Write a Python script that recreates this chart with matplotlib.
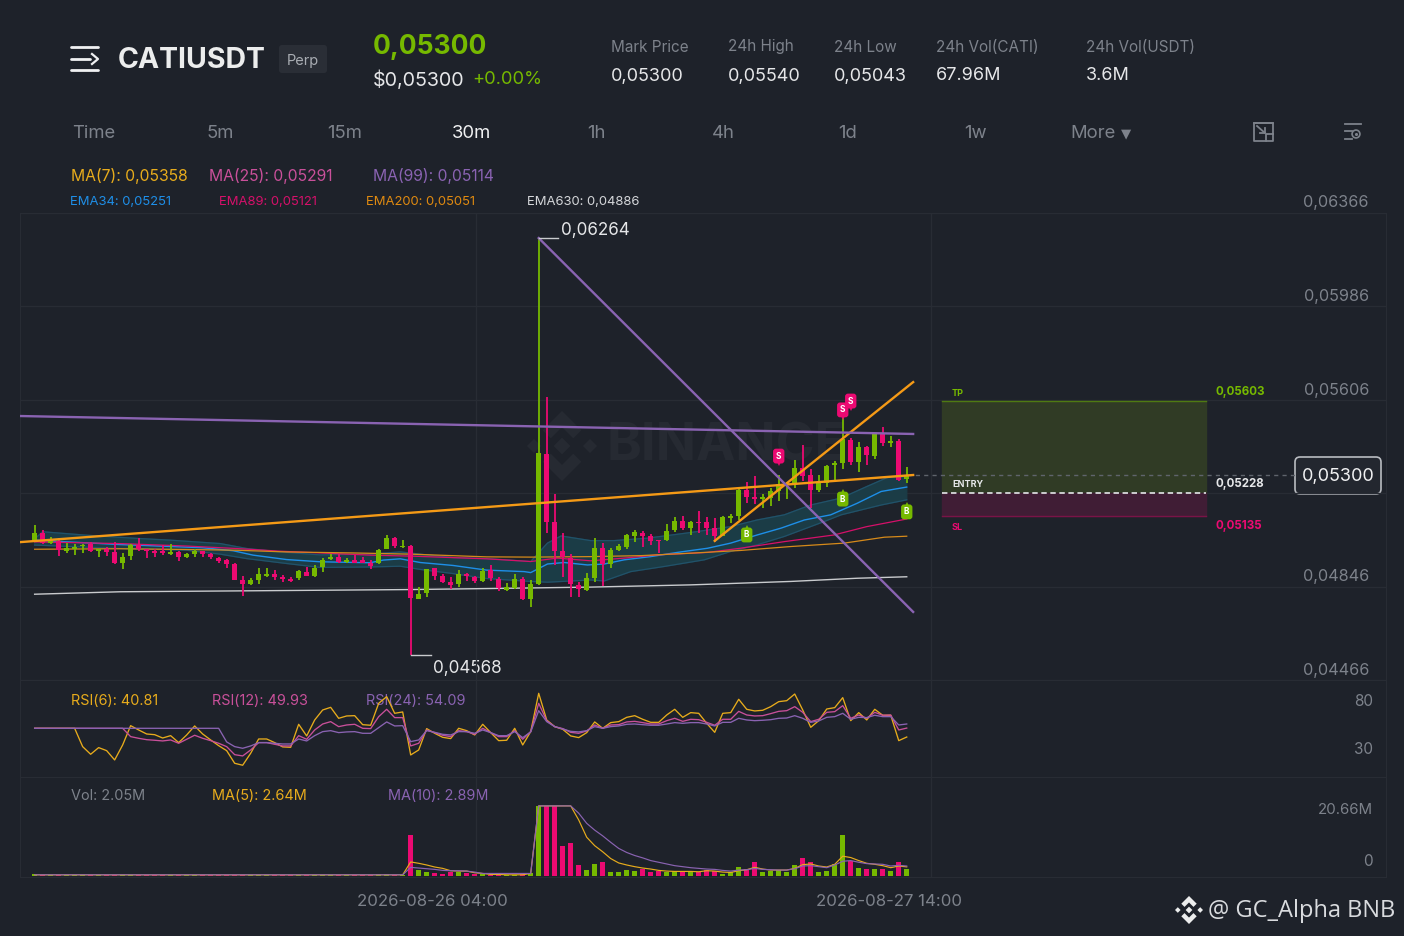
import numpy as np
import matplotlib
matplotlib.use("Agg")
import matplotlib.pyplot as plt
from matplotlib.patches import FancyBboxPatch, Polygon
from matplotlib.transforms import offset_copy

W, H = 1404, 936
BG = "#1e222a"
GRID = "#282c34"
GRAY = "#7d828b"
GREEN = "#76b900"
PINK = "#ec0a72"
YELLOW = "#e8ac1c"
MAPINK = "#c9509a"
PURPLE = "#8a63b2"
ORANGE = "#f59a16"
BLUE = "#1e8fe8"

# prices are in units of 0.00001
opens = [5032, 5065, 5025, 5032, 4990, 4997, 5011, 5021, 4992, 5000,
         4987, 4943, 4970, 5015, 4998, 4992, 4992, 4977, 4985, 4967,
         4979, 4990, 4978, 4964, 4954, 4937, 4871, 4857, 4872, 4890,
         4899, 4887, 4878, 4882, 4907, 4888, 4924, 4958, 4967, 4947,
         4955, 4954, 4941, 4940, 5000, 5043, 5008, 5013, 4796, 4821,
         4921, 4888, 4865, 4856, 4898, 4887, 4868, 4914, 4877, 4833,
         4839, 4876, 4796, 4857, 5386, 5108, 4989, 4964, 4853, 4833,
         4879, 5002, 4937, 4995, 5009, 5052, 5066, 5050, 5035, 5036,
         5077, 5112, 5086, 5109, 5108, 5084, 5052, 5126, 5134, 5240,
         5212, 5203, 5206, 5235, 5260, 5269, 5328, 5301, 5237, 5267,
         5341, 5348, 5443, 5351, 5413, 5378, 5467, 5432, 5440, 5283]
highs = [5096, 5078, 5046, 5042, 5024, 5021, 5021, 5028, 5001, 5008,
         5028, 4981, 5021, 5042, 5001, 5001, 5015, 5019, 4992, 4983,
         4997, 4992, 4982, 4967, 4960, 4940, 4891, 4879, 4920, 4921,
         4913, 4894, 4886, 4913, 4924, 4932, 4964, 4978, 4978, 4963,
         4973, 4967, 4954, 4998, 5054, 5047, 5035, 5015, 4845, 4918,
         4922, 4899, 4886, 4913, 4901, 4890, 4920, 4934, 4887, 4860,
         4896, 4887, 4873, 6264, 5616, 5223, 5063, 4979, 4863, 4901,
         5043, 5025, 5002, 5020, 5061, 5077, 5073, 5061, 5036, 5101,
         5131, 5134, 5111, 5155, 5128, 5124, 5134, 5142, 5246, 5272,
         5294, 5223, 5246, 5301, 5273, 5362, 5423, 5324, 5301, 5341,
         5355, 5540, 5450, 5433, 5418, 5470, 5494, 5459, 5446, 5334]
lows = [5028, 5021, 5021, 4971, 4983, 4975, 4983, 4987, 4967, 4970,
        4936, 4918, 4956, 4990, 4963, 4966, 4975, 4975, 4952, 4964,
        4966, 4968, 4959, 4943, 4922, 4871, 4808, 4853, 4856, 4886,
        4872, 4865, 4865, 4872, 4888, 4887, 4906, 4956, 4944, 4940,
        4940, 4940, 4916, 4939, 4997, 5004, 5005, 4568, 4794, 4804,
        4872, 4859, 4837, 4846, 4869, 4859, 4863, 4867, 4830, 4830,
        4835, 4792, 4765, 4854, 5066, 4934, 4887, 4803, 4803, 4830,
        4864, 4849, 4921, 4989, 4998, 5029, 5009, 5016, 4982, 5033,
        5069, 5077, 5054, 5066, 5056, 5029, 5050, 5104, 5115, 5188,
        5183, 5165, 5172, 5196, 5204, 5246, 5276, 5165, 5229, 5253,
        5280, 5326, 5341, 5313, 5341, 5367, 5420, 5412, 5277, 5267]
closes = [5065, 5024, 5035, 4994, 5004, 5008, 5017, 4990, 4998, 4987,
          4941, 4968, 5015, 4997, 4989, 4983, 4981, 4985, 4966, 4978,
          4992, 4979, 4966, 4951, 4937, 4872, 4856, 4871, 4897, 4898,
          4886, 4875, 4870, 4909, 4890, 4922, 4956, 4966, 4947, 4956,
          4944, 4943, 4929, 4994, 5044, 5011, 5013, 4798, 4814, 4918,
          4888, 4865, 4853, 4899, 4888, 4870, 4910, 4883, 4839, 4844,
          4877, 4795, 4857, 5389, 5107, 4989, 4968, 4856, 4837, 4879,
          5002, 4938, 4995, 5012, 5054, 5070, 5050, 5033, 5031, 5074,
          5111, 5086, 5108, 5104, 5086, 5052, 5131, 5135, 5240, 5212,
          5204, 5210, 5234, 5263, 5269, 5328, 5296, 5237, 5267, 5338,
          5348, 5446, 5351, 5413, 5381, 5470, 5432, 5439, 5280, 5300]

# moving averages, (candle number, price) pairs
ema34X = [0, 2.3, 10.7, 14.8, 21, 24.8, 27.3, 31.5, 35.7, 41.9, 43.6, 45.7, 48.2, 52.3, 56.5,
          61.2, 62, 64.1, 66.2, 69.1, 71.2, 73.7, 77, 80.3, 84.1, 87, 90.3, 93.3, 96.2, 99.5,
          102.8, 105.8, 109]
ema34Y = [5035, 5031, 5017, 5012, 5004, 4992, 4974, 4956, 4947, 4943, 4954, 4959, 4944, 4932, 4913,
          4907, 4903, 4938, 4944, 4934, 4938, 4955, 4968, 4985, 5002, 5023, 5056, 5084, 5117, 5138,
          5185, 5233, 5251]
bandTopX = [0, 1, 6.5, 12.8, 16.9, 23.2, 26.5, 30.7, 35.7, 41.9, 45.7, 48.2, 52.3, 56.5, 62,
            64.1, 65.8, 69.5, 72.4, 76.6, 82, 87, 90.3, 93.7, 97, 100.8, 104, 106.6, 109]
bandTopY = [5040, 5069, 5055, 5042, 5035, 5021, 5001, 4987, 4975, 4978, 4987, 4978, 4964, 4960, 4948,
            5023, 5052, 5033, 5033, 5043, 5066, 5090, 5117, 5138, 5178, 5206, 5253, 5290, 5294]
bandLowX = [0, 10.7, 19, 23.2, 26.5, 31.5, 35.7, 41.9, 45.7, 48.2, 52.3, 56.5, 62, 64.1, 69.5,
            71.2, 74.5, 78.7, 83.7, 87, 90.3, 93.7, 98.7, 100.8, 105.8, 109]
bandLowY = [5015, 5001, 4994, 4978, 4960, 4940, 4924, 4926, 4929, 4916, 4899, 4879, 4867, 4864, 4873,
            4869, 4907, 4928, 4955, 4989, 5016, 5050, 5111, 5138, 5178, 5199]
ema89X = [0, 10.7, 19, 25.2, 30.7, 35.7, 41.9, 47, 56.5, 62, 65.3, 69.5, 73.7, 77.8, 84.1, 88.2,
          93.7, 99.9, 104, 109]
ema89Y = [5028, 5021, 5011, 5001, 4990, 4983, 4974, 4970, 4959, 4948, 4962, 4951, 4962, 4975, 4985, 5002,
          5029, 5056, 5090, 5121]
ema200X = [0, 10.7, 19, 25.2, 31.5, 39.8, 47, 56.5, 62, 69.5, 75.8, 82, 88.2, 94.5, 101.2, 106.2, 109]
ema200Y = [4998, 5000, 4997, 4994, 4987, 4983, 4978, 4967, 4966, 4968, 4972, 4982, 4993, 5009, 5023, 5047, 5051]
ema630X = [0, 10.7, 27.3, 47, 56.5, 69.5, 82, 94.5, 102.8, 109]
ema630Y = [4815, 4825, 4829, 4834, 4838, 4844, 4853, 4867, 4880, 4886]

# hand drawn trend lines, (candle number, price) at both ends
trendOrangeLong = ([-1.8, 109.8], [5027, 5300])
trendOrangeUp = ([85, 109.8], [5032, 5678])
trendPurpleFlat = ([-1.8, 109.8], [5540, 5467])
trendPurpleDown = ([63, 109.8], [6264, 4743])

signalX = [102, 101, 93, 101, 89, 109]
signalY = [5601, 5565, 5377, 5202, 5056, 5150]
signalKind = ["S", "S", "S", "B", "B", "B"]

tpPrice, entryPrice, slPrice = 5603, 5228, 5135
lastPrice = 5300

priceTicks = [6366, 5986, 5606, 5228, 4846, 4466]

rsi6 = [49.7, 49.7, 49.7, 49.7, 49.7, 49.7, 31, 23.2, 30, 26.9, 17.4, 32.7, 52.4, 48, 43.9, 43.2,
        39.8, 42.2, 35.1, 42.9, 52.1, 43.9, 37.8, 32, 26.9, 14, 12, 24.2, 38.8, 38.8, 35.1, 30.7,
        30.3, 53.8, 41.9, 58.2, 68.4, 71.1, 59.9, 62.3, 62.6, 53.4, 52.8, 75.2, 82, 65, 66.4, 22.5,
        27.6, 49.4, 44.6, 40.5, 39.2, 49.7, 47.3, 42.9, 53.8, 45.3, 37.1, 37.5, 49.7, 32.7, 46.3,
        85.4, 58.2, 51.4, 48.7, 41.9, 40.2, 45.3, 56.2, 49.7, 55.5, 56.5, 60.9, 62.6, 58.9, 55.8,
        55.8, 63.3, 69.1, 60.9, 65.7, 65, 54.8, 45.6, 65, 65.7, 79.3, 69.1, 67.4, 68.1, 71.8, 76.9,
        77.9, 84.7, 68.4, 50.7, 57.5, 69.4, 70.8, 81, 57.5, 65.7, 58.2, 69.1, 63, 63, 37.1, 40.81]
rsi12 = [49.7, 49.7, 49.7, 49.7, 49.7, 49.7, 49.7, 49.7, 49.7, 49.7, 49.7, 49.7,
         41.2, 39.5, 38.1, 37.5, 36.8, 37.8, 34.4, 38.5, 42.6, 39.5, 37.1, 34.4, 31, 22.8, 21.5,
         27.6, 35.1, 35.1, 33.4, 31.7, 31.7, 42.2, 38.5, 48, 54.1, 56.5, 51.4, 53.1, 53.8, 49.7,
         49.4, 61.6, 69.1, 60.6, 60.6, 31.7, 34.4, 48, 45.3, 42.6, 41.2, 47.3, 46.3, 43.6,
         49.7, 45.3, 41.2, 41.2, 47.3, 38.5, 46.3, 75.2, 57.5, 51.4, 49.4, 45.6, 44.6, 47, 53.1,
         49.7, 53.1, 53.4, 56.2, 56.8, 55.5, 54.1, 54.1, 57.5, 59.9, 56.8, 58.9, 58.5, 55.8, 52.8,
         58.9, 58.9, 67, 63.3, 62.3, 62.6, 64.7, 67, 67.7, 71.8, 66, 56.5, 58.9, 66, 66.7, 72.8,
         59.9, 63.3, 59.9, 66, 63, 63.3, 48, 49.93]
rsi24 = [49.7, 49.7, 49.7, 49.7, 49.7, 49.7, 49.7, 49.7, 49.7, 49.7, 49.7, 49.7,
         49.7, 49.7, 49.7, 49.7, 49.7, 49.7, 49.7, 49.7, 49.7, 49.7, 49.7, 49.7,
         35.8, 31, 29.3, 31.7, 35.1, 35.1, 34.4, 33.7, 33.7, 38.8, 36.8, 42.2, 46.3, 47.3, 45.3,
         46, 46.3, 44.6, 44.6, 50.4, 56.2, 52.1, 52.4, 36.1, 37.8, 47.3, 45.6, 43.6, 42.9, 46.3,
         46.3, 44.6, 48, 45.3, 42.2, 42.2, 46.3, 40.2, 46, 67.7, 56.5, 51.4, 49, 46.6, 46, 47.3,
         51.4, 49.7, 51.4, 52.1, 53.8, 54.1, 53.4, 52.8, 52.8, 54.1, 55.5, 54.8, 55.5, 55.5, 54.1,
         52.1, 55.8, 55.8, 59.9, 58.2, 57.5, 57.9, 58.5, 59.9, 60.2, 62.6, 59.9, 55.8, 57.2, 60.9,
         61.6, 65, 58.9, 60.9, 60.6, 63, 61.6, 61.6, 53.1, 54.09]

# volume in millions, the chart itself cuts everything above 20.66
volume = [0.4, 0.3, 0.3, 0.3, 0.3, 0.2, 0.2, 0.2, 0.2, 0.2, 0.3, 0.3, 0.3, 0.2, 0.2, 0.2,
          0.2, 0.2, 0.2, 0.2, 0.2, 0.2, 0.2, 0.2, 0.2, 0.3, 0.3, 0.2, 0.3, 0.2, 0.2, 0.2,
          0.2, 0.2, 0.2, 0.2, 0.2, 0.2, 0.2, 0.2, 0.2, 0.2, 0.2, 0.5, 0.4, 0.2, 0.2,
          12.05, 1.7, 1, 0.7, 0.4, 1.2, 1.2, 0.7, 0.4, 0.4, 0.3, 0.3, 0.3, 0.3, 0.4, 0.8,
          20.66, 20.66, 20.66, 8.9, 9.6, 3.1, 1.7, 3.6, 4, 1.2, 1, 1.6, 1.3, 2, 1, 1.3, 1.2,
          1.3, 1.2, 1.2, 1.2, 1.7, 1.4, 0.6, 1, 2.6, 1.9, 4.1, 1, 1.4, 1.7, 1.2, 3.2, 5.4, 4,
          1.2, 1.5, 3.4, 12.1, 4.3, 2.4, 1.9, 2, 2, 1.5, 4, 2.05]
volMa5 = [0.3] * 47 + [4.1, 3.7, 3.2, 2.6, 2.2, 1.5, 1.4, 1.4, 0.9, 0.7, 0.4, 0.4, 0.3, 0.3, 0.3, 0.7,
                       20.66, 20.66, 20.66, 20.66, 20.66, 16.5, 11.4, 8.9, 7.1, 5.1, 3.8, 3.2, 2.7,
                       2.3, 2, 1.6, 1.4, 1.3, 1.3, 1.3, 1.2, 1.5, 1.4, 1.1, 1, 1.5, 1.8, 2.5, 2, 1.7,
                       1.7, 1.7, 2.2, 3.3, 3.5, 2.9, 2.6, 3.4, 5.8, 5.4, 4.5, 3.7, 3.4, 3, 2.4, 2.9, 2.64]
volMa10 = [0.3] * 47 + [2.5, 2.3, 2.1, 1.9, 1.6, 1.5, 1.5, 1.4, 1.1, 0.7, 0.7, 0.7, 0.7, 0.7, 0.7, 0.7,
                        20.66, 20.66, 20.66, 20.66, 20.66, 18.5, 15.5, 13.5, 11.8, 9.9, 8.1, 6.9, 6,
                        5.3, 4.5, 4, 3.5, 3, 2.7, 2.4, 2.2, 2, 1.9, 1.6, 1.4, 1.7, 1.8, 2.2, 1.9, 1.8,
                        1.7, 1.7, 2.1, 2.9, 3, 2.7, 2.4, 3.2, 4.3, 4.5, 4, 3.6, 3.5, 3.4, 2.9, 3.1, 2.89]

plt.rcParams["font.family"] = ["Inter", "DejaVu Sans"]


def addPanel(fig, top, bottom):
    ax = fig.add_axes([20 / W, 1 - bottom / H, 1366 / W, (bottom - top) / H], zorder=2)
    ax.patch.set_alpha(0)
    # candle 0 sits at pixel 34.7 and candles are 8 pixels apart
    ax.set_xlim(-1.83, 168.9)
    ax.set_xticks([55.17, 112.04])
    ax.set_xticklabels([])
    ax.set_yticklabels([])
    ax.tick_params(length=0)
    ax.grid(True, color=GRID, linewidth=1)
    ax.set_axisbelow(True)
    for spine in ax.spines.values():
        spine.set_color(GRID)
    return ax


def label(ui, x, y, text, **kw):
    # va="center" on these fonts reads about 2 pixels high
    ui.text(x, y + 2, text, va="center", **kw)


def drawLogo(ui, x, y, r, color):
    ui.add_patch(Polygon([(x, y - r * 0.24), (x + r * 0.24, y), (x, y + r * 0.24), (x - r * 0.24, y)], fc=color, ec="none"))
    for side in (-1, 1):
        cx = x + side * r * 0.8
        ui.add_patch(Polygon([(cx, y - r * 0.2), (cx + r * 0.2, y), (cx, y + r * 0.2), (cx - r * 0.2, y)], fc=color, ec="none"))
        chevron = [(x, y + side * r), (x + r * 0.55, y + side * r * 0.45), (x + r * 0.32, y + side * r * 0.22),
                   (x, y + side * r * 0.54), (x - r * 0.32, y + side * r * 0.22), (x - r * 0.55, y + side * r * 0.45)]
        ui.add_patch(Polygon(chevron, fc=color, ec="none"))


def drawHeader(ui):
    for y, x0, x1 in [(47, 71, 98), (59, 71, 90), (70, 71, 98)]:
        ui.plot([x0, x1], [y, y], color="#f0f1f2", lw=2, solid_capstyle="round")
    ui.plot([92, 98, 92], [54, 59, 64], color="#f0f1f2", lw=1.6)

    label(ui, 118, 59, "CATIUSDT", color="#eceded", fontsize=20.5, fontweight="bold")
    ui.add_patch(FancyBboxPatch((282, 48), 42, 22, boxstyle="round,pad=3", fc="#2a2e36", ec="none"))
    label(ui, 303, 59.5, "Perp", color="#a9adb3", fontsize=10.5, ha="center")
    label(ui, 373, 45, "0,05300", color=GREEN, fontsize=19, fontweight="bold")
    label(ui, 373, 78, "$0,05300", color="#e6e7e9", fontsize=14.2)
    label(ui, 472, 78, "+0.00%", color=GREEN, fontsize=13.2)

    stats = [(611, "Mark Price", "0,05300"), (728, "24h High", "0,05540"), (834, "24h Low", "0,05043"),
             (936, "24h Vol(CATI)", "67.96M"), (1086, "24h Vol(USDT)", "3.6M")]
    for x, name, value in stats:
        label(ui, x, 45, name, color=GRAY, fontsize=11)
        label(ui, x, 74, value, color="#e6e7e9", fontsize=13)

    frames = [(72, "Time"), (206, "5m"), (327, "15m"), (452, "30m"), (587, "1h"), (712, "4h"),
              (838, "1d"), (964, "1w"), (1070, "More")]
    for x, name in frames:
        label(ui, x, 132, name, color="#f0f1f2" if name == "30m" else GRAY, fontsize=13.3)
    label(ui, 1126, 132, "▼", color=GRAY, fontsize=9.5, ha="center", family="DejaVu Sans")

    # the two little icons at the right
    ui.plot([1254, 1273, 1273, 1266, 1266, 1273], [123, 123, 141, 141, 134, 134], color=GRAY, lw=1.3)
    ui.plot([1266, 1254, 1254, 1273], [141, 141, 123, 123], color=GRAY, lw=1.3)
    ui.plot([1257, 1265], [126, 133], color=GRAY, lw=1.3)
    ui.plot([1260, 1265, 1265], [133, 133, 128], color=GRAY, lw=1.3)
    for y, x1 in [(124, 1361), (131, 1352), (139, 1352)]:
        ui.plot([1345, x1], [y, y], color=GRAY, lw=1.3)
    ui.scatter([1356], [134], s=32, facecolor="none", edgecolor=GRAY, linewidths=1.2)
    ui.scatter([1356], [134], s=5, color=GRAY, linewidths=0)

    for x, text, color in [(71, "MA(7): 0,05358", YELLOW), (209, "MA(25): 0,05291", MAPINK),
                           (373, "MA(99): 0,05114", PURPLE)]:
        label(ui, x, 174, text, color=color, fontsize=11.3)
    for x, text, color in [(70, "EMA34: 0,05251", BLUE), (219, "EMA89: 0,05121", "#d6106a"),
                           (366, "EMA200: 0,05051", "#e08a10"), (527, "EMA630: 0,04886", "#d5d7da")]:
        label(ui, x, 200, text, color=color, fontsize=9.4)


def drawSideLabels(ui):
    for y, text in [(201, "0,06366"), (295, "0,05986"), (388, "0,05606"), (575, "0,04846"), (668, "0,04466")]:
        label(ui, 1369, y, text, color=GRAY, fontsize=11.7, ha="right")
    ui.add_patch(FancyBboxPatch((1300, 462), 76, 27, boxstyle="round,pad=5", fc="#23272f", ec="#b9bcc1", lw=1.2))
    label(ui, 1338, 474, "0,05300", color="#f0f1f2", fontsize=13, ha="center")

    label(ui, 952, 391, "TP", color=GREEN, fontsize=6.5, fontweight="bold")
    label(ui, 952, 525, "SL", color=PINK, fontsize=6.5, fontweight="bold")
    label(ui, 1215, 390, "0,05603", color=GREEN, fontsize=8.3, fontweight="bold")
    label(ui, 1215, 482, "0,05228", color="#e6e7e9", fontsize=8.3, fontweight="bold")
    label(ui, 1215, 524, "0,05135", color=PINK, fontsize=8.3, fontweight="bold")

    label(ui, 561, 228, "0,06264", color="#e6e7e9", fontsize=12.3)
    label(ui, 433, 666, "0,04568", color="#e6e7e9", fontsize=12.3)

    for x, text, color in [(71, "RSI(6): 40.81", YELLOW), (212, "RSI(12): 49.93", MAPINK), (366, "RSI(24): 54.09", PURPLE)]:
        label(ui, x, 699, text, color=color, fontsize=10.4)
    label(ui, 1373, 700, "80", color=GRAY, fontsize=11, ha="right")
    label(ui, 1373, 748, "30", color=GRAY, fontsize=11, ha="right")

    for x, text, color in [(71, "Vol: 2.05M", GRAY), (212, "MA(5): 2.64M", YELLOW), (388, "MA(10): 2.89M", PURPLE)]:
        label(ui, x, 794, text, color=color, fontsize=10.4)
    label(ui, 1373, 808, "20.66M", color=GRAY, fontsize=10.8, ha="right")
    label(ui, 1373, 859, "0", color=GRAY, fontsize=11, ha="right")

    label(ui, 432, 900, "2026-08-26 04:00", color=GRAY, fontsize=12.1, ha="center")
    label(ui, 889, 900, "2026-08-27 14:00", color=GRAY, fontsize=12.1, ha="center")

    # faint watermark behind the candles
    label(ui, 607, 445, "BINANCE", color="#262a32", fontsize=38, fontweight="bold")
    drawLogo(ui, 562, 446, 35, "#262a32")

    drawLogo(ui, 1189, 910, 14, "#eceded")
    label(ui, 1208, 909, "@ GC_Alpha BNB", color="#d9dbde", fontsize=17, family="Open Sans")


def drawPrice(ax):
    o, h, l, c = [np.array(v) / 1e5 for v in (opens, highs, lows, closes)]
    xs = np.arange(len(o))
    colors = np.where(c >= o, GREEN, PINK)

    ax.fill(np.r_[bandTopX, bandLowX[::-1]], np.r_[bandTopY, bandLowY[::-1]] / 1e5, color="#1b3c46", zorder=1)
    ax.plot(bandTopX, np.array(bandTopY) / 1e5, color="#21526a", lw=0.9, zorder=1.2)
    ax.plot(bandLowX, np.array(bandLowY) / 1e5, color="#21526a", lw=0.9, zorder=1.2)
    ax.plot(ema34X, np.array(ema34Y) / 1e5, color=BLUE, lw=1, zorder=1.5)
    ax.plot(ema89X, np.array(ema89Y) / 1e5, color="#d6106a", lw=0.9, zorder=1.5)
    ax.plot(ema200X, np.array(ema200Y) / 1e5, color="#d68a1a", lw=0.9, zorder=1.5)
    ax.plot(ema630X, np.array(ema630Y) / 1e5, color="#c9cbce", lw=1, zorder=1.5)

    ax.vlines(xs, l, h, colors=colors, lw=1.3, zorder=3)
    ax.bar(xs, np.abs(c - o), bottom=np.minimum(o, c), width=0.62, color=colors, zorder=3)

    for line, color in [(trendOrangeLong, ORANGE), (trendOrangeUp, ORANGE),
                        (trendPurpleFlat, PURPLE), (trendPurpleDown, PURPLE)]:
        ax.plot(line[0], np.array(line[1]) / 1e5, color=color, lw=1.7, zorder=4)

    # leader lines of the high and low labels
    ax.plot([63, 65.4], [0.06264, 0.06264], color="#c9cbce", lw=1, zorder=4)
    ax.plot([47, 49.5], [0.04568, 0.04568], color="#c9cbce", lw=1, zorder=4)

    # TP / SL box
    ax.fill_between([113.4, 146.4], entryPrice / 1e5, tpPrice / 1e5, color="#303b25", zorder=1)
    ax.fill_between([113.4, 146.4], slPrice / 1e5, entryPrice / 1e5, color="#401d35", zorder=1)
    ax.plot([113.4, 146.4], [tpPrice / 1e5] * 2, color="#4f7a12", lw=1, zorder=1.5)
    ax.plot([113.4, 146.4], [slPrice / 1e5] * 2, color="#7a1347", lw=1, zorder=1.5)
    ax.plot([113.4, 146.4], [entryPrice / 1e5] * 2, color="#d8d9db", lw=1.3, ls=(0, (3, 2)), zorder=2)
    ax.plot([109, 157.6], [lastPrice / 1e5] * 2, color="#5f646c", lw=1, ls=(0, (3, 3)), zorder=2)
    ax.text(114.7, 0.05263, "ENTRY", color="#e6e7e9", fontsize=6.5, fontweight="bold", va="center", zorder=5)

    for x, y, kind in zip(signalX, signalY, signalKind):
        face = PINK if kind == "S" else GREEN
        marker = "v" if kind == "S" else "^"
        shift = -6 if kind == "S" else 6
        tipTransform = offset_copy(ax.transData, fig=ax.figure, y=shift, units="dots")
        ax.plot([x], [y / 1e5], marker=marker, ms=6, color=face, mew=0, transform=tipTransform, zorder=5)
        ax.text(x, y / 1e5, kind, color="white", fontsize=6, fontweight="bold", ha="center", va="center",
                zorder=6, bbox=dict(boxstyle="round,pad=0.35", fc=face, ec="none"))

    ax.set_ylim(0.04466, 0.06366)
    ax.set_yticks(np.array(priceTicks) / 1e5)


def main():
    fig = plt.figure(figsize=(W / 100, H / 100), dpi=100, facecolor=BG)

    ui = fig.add_axes([0, 0, 1, 1], zorder=1)
    ui.axis("off")
    drawHeader(ui)
    drawSideLabels(ui)
    ui.set_xlim(0, W)
    ui.set_ylim(H, 0)

    priceAx = addPanel(fig, 213, 680)
    drawPrice(priceAx)

    rsiAx = addPanel(fig, 680, 777)
    xs = np.arange(len(rsi6))
    rsiAx.plot(xs, rsi6, color=YELLOW, lw=0.95)
    rsiAx.plot(xs, rsi12, color=MAPINK, lw=0.95)
    rsiAx.plot(xs, rsi24, color=PURPLE, lw=0.95)
    rsiAx.set_ylim(0, 99)
    rsiAx.set_yticks([])

    volAx = addPanel(fig, 777, 877)
    barColors = np.where(np.array(closes) >= np.array(opens), GREEN, PINK)
    volAx.bar(xs, volume, width=0.62, color=barColors)
    volAx.plot(xs, volMa5, color=YELLOW, lw=0.85)
    volAx.plot(xs, volMa10, color=PURPLE, lw=0.85)
    volAx.set_ylim(-0.35, 29.2)
    volAx.set_yticks([])

    fig.savefig("out.png", dpi=100, facecolor=BG)


if __name__ == "__main__":
    main()
